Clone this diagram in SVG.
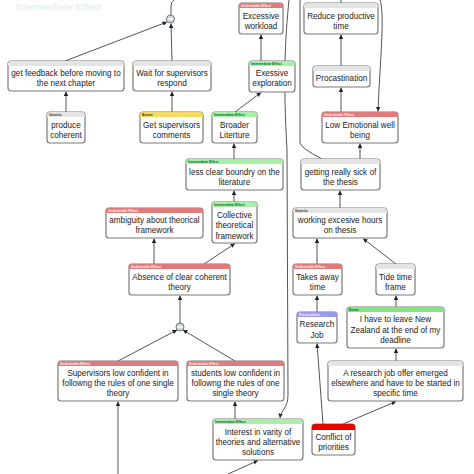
<svg xmlns="http://www.w3.org/2000/svg" width="474" height="474" viewBox="0 0 474 474">
<style>
.box{fill:#fff;stroke:#7a7a7a;stroke-width:1.2}
.t{font-family:"Liberation Sans",Arial,sans-serif;font-size:8.15px;fill:#222;text-anchor:middle}
.h{font-family:"Liberation Sans",Arial,sans-serif;font-size:3.4px;font-weight:bold}
.hr{fill:#e07b7b}.hg{fill:#a8f0a8}.hy{fill:#f4dc64}.hb{fill:#9a9ae6}.he{fill:#7ee87e}.hx{fill:#e4e4e4}.hc{fill:#e60000}
.lw{fill:#fff0f0}.ld{fill:#063}
.c{fill:none;stroke:#555;stroke-width:1}
.and{fill:#cfdadf;stroke:#666;stroke-width:0.9}
</style>
<defs>
<marker id="a" viewBox="0 0 6 6" refX="6" refY="3" markerWidth="4.5" markerHeight="4.5" orient="auto" markerUnits="userSpaceOnUse">
<path d="M0,0 L6,3 L0,6 Z" fill="#222"/>
</marker>
</defs>
<rect width="474" height="474" fill="#fff"/>
<text x="16" y="10" font-family="Liberation Sans,Arial,sans-serif" font-size="9.5" font-weight="bold" fill="#dff5df">Intermediate Effect</text>

<g id="connectors">
<path class="c" d="M171,15 L171,6 Q171,2 174,0"/>
<path class="c" d="M65,61 L167,22" marker-end="url(#a)"/>
<path class="c" d="M172,61 L171,23.5" marker-end="url(#a)"/>
<path class="c" d="M66,112 L66,91.5" marker-end="url(#a)"/>
<path class="c" d="M172,112 L172,91.5" marker-end="url(#a)"/>
<path class="c" d="M235,112 L261,92.5" marker-end="url(#a)"/>
<path class="c" d="M261,61 L261,34.5" marker-end="url(#a)"/>
<path class="c" d="M234,159 L234,143.5" marker-end="url(#a)"/>
<path class="c" d="M234,202 L234,190.5" marker-end="url(#a)"/>
<path class="c" d="M154,264 L154,238.5" marker-end="url(#a)"/>
<path class="c" d="M204,264 L235,243.5" marker-end="url(#a)"/>
<path class="c" d="M180,323 L180,295.5" marker-end="url(#a)"/>
<path class="c" d="M118,361 L177,330" marker-end="url(#a)"/>
<path class="c" d="M235,361 L183,330" marker-end="url(#a)"/>
<path class="c" d="M118,474 L118,401.5" marker-end="url(#a)"/>
<path class="c" d="M235,419 L235,401.5" marker-end="url(#a)"/>
<path class="c" d="M228,474 L258,460.5" marker-end="url(#a)"/>
<path class="c" d="M289,0 C285,40 283,80 287,150 L288,395 C288,408 281,410 280,418" marker-end="url(#a)"/>
<path class="c" d="M341,0 L341,3"/>
<path class="c" d="M341,66 L341,34.5" marker-end="url(#a)"/>
<path class="c" d="M341,112 L341,87.5" marker-end="url(#a)"/>
<path class="c" d="M380,0 C385,15 380,60 378,111.5" marker-end="url(#a)"/>
<path class="c" d="M300,0 L300,143 Q301,148 322,159"/>
<path class="c" d="M360,159 L360,143.5" marker-end="url(#a)"/>
<path class="c" d="M340,208 L340,190.5" marker-end="url(#a)"/>
<path class="c" d="M317,264 L317,238.5" marker-end="url(#a)"/>
<path class="c" d="M396,264 L363,238.5" marker-end="url(#a)"/>
<path class="c" d="M396,307 L396,295.5" marker-end="url(#a)"/>
<path class="c" d="M317,312 L317,295.5" marker-end="url(#a)"/>
<path class="c" d="M396,361 L396,348.5" marker-end="url(#a)"/>
<path class="c" d="M323,424 L317,343.5" marker-end="url(#a)"/>
<path class="c" d="M343,424 L396,401.5" marker-end="url(#a)"/>
</g>

<g id="and1"><circle class="and" cx="170.5" cy="19" r="4"/><line x1="167.5" y1="19" x2="173.5" y2="19" stroke="#fff" stroke-width="1.2"/></g>
<g id="and2"><circle class="and" cx="180" cy="327" r="4"/><line x1="177" y1="327" x2="183" y2="327" stroke="#fff" stroke-width="1.2"/></g>

<g id="n_feedback">
<rect class="box" x="8" y="61" width="116" height="30" rx="3"/>
<path class="hx" d="M8,66 V64 Q8,61 11,61 H121 Q124,61 124,64 V66 Z"/>
<text class="t" x="66" y="76">get feedback before moving to</text>
<text class="t" x="66" y="86">the next chapter</text>
</g>

<g id="n_wait">
<rect class="box" x="133" y="61" width="78" height="30" rx="3"/>
<path class="hx" d="M133,66 V64 Q133,61 136,61 H208 Q211,61 211,64 V66 Z"/>
<text class="t" x="172" y="76">Wait for supervisors</text>
<text class="t" x="172" y="86">respond</text>
</g>

<g id="n_produce">
<rect class="box" x="47" y="112" width="38" height="31" rx="3"/>
<path class="hx" d="M47,117 V115 Q47,112 50,112 H82 Q85,112 85,115 V117 Z"/>
<text class="h" x="49" y="116" fill="#333">Generic</text>
<text class="t" x="66" y="128">produce</text>
<text class="t" x="66" y="138">coherent</text>
</g>

<g id="n_getsup">
<rect class="box" x="140" y="112" width="63" height="31" rx="3"/>
<path class="hy" d="M140,117 V115 Q140,112 143,112 H200 Q203,112 203,115 V117 Z"/>
<text class="h" x="142" y="116" fill="#333">Action</text>
<text class="t" x="171.5" y="128">Get supervisors</text>
<text class="t" x="171.5" y="138">comments</text>
</g>

<g id="n_broader">
<rect class="box" x="212" y="112" width="45" height="31" rx="3"/>
<path class="hg" d="M212,117 V115 Q212,112 215,112 H254 Q257,112 257,115 V117 Z"/>
<text class="h ld" x="214" y="116">Intermediate Effect</text>
<text class="t" x="234.5" y="128">Broader</text>
<text class="t" x="234.5" y="138">Literture</text>
</g>

<g id="n_workload">
<rect class="box" x="239" y="3" width="44" height="31" rx="3"/>
<path class="hr" d="M239,8 V6 Q239,3 242,3 H280 Q283,3 283,6 V8 Z"/>
<text class="h lw" x="241" y="7">Undesirable Effect</text>
<text class="t" x="261" y="19">Excessive</text>
<text class="t" x="261" y="29">workload</text>
</g>

<g id="n_exploration">
<rect class="box" x="249" y="61" width="46" height="31" rx="3"/>
<path class="hg" d="M249,66 V64 Q249,61 252,61 H292 Q295,61 295,64 V66 Z"/>
<text class="h ld" x="251" y="65">Intermediate Effect</text>
<text class="t" x="272" y="76">Exessive</text>
<text class="t" x="272" y="86">exploration</text>
</g>

<g id="n_reduce">
<rect class="box" x="304" y="3" width="74" height="31" rx="3"/>
<path class="hx" d="M304,8 V6 Q304,3 307,3 H375 Q378,3 378,6 V8 Z"/>
<text class="t" x="341" y="19">Reduce productive</text>
<text class="t" x="341" y="29">time</text>
</g>

<g id="n_procast">
<rect class="box" x="313" y="66" width="57" height="21" rx="3"/>
<path class="hx" d="M313,71 V69 Q313,66 316,66 H367 Q370,66 370,69 V71 Z"/>
<text class="t" x="341.5" y="81">Procastination</text>
</g>

<g id="n_lowemo">
<rect class="box" x="322" y="112" width="76" height="31" rx="3"/>
<path class="hr" d="M322,117 V115 Q322,112 325,112 H395 Q398,112 398,115 V117 Z"/>
<text class="h lw" x="324" y="116">Undesirable Effect</text>
<text class="t" x="360" y="128">Low Emotional well</text>
<text class="t" x="360" y="138">being</text>
</g>

<g id="n_lessclear">
<rect class="box" x="186" y="159" width="97" height="31" rx="3"/>
<path class="hg" d="M186,164 V162 Q186,159 189,159 H280 Q283,159 283,162 V164 Z"/>
<text class="h ld" x="188" y="163">Intermediate Effect</text>
<text class="t" x="234.5" y="175">less clear boundry on the</text>
<text class="t" x="234.5" y="185">literature</text>
</g>

<g id="n_sick">
<rect class="box" x="301" y="159" width="79" height="31" rx="3"/>
<path class="hx" d="M301,164 V162 Q301,159 304,159 H377 Q380,159 380,162 V164 Z"/>
<text class="t" x="340.5" y="175">getting really sick of</text>
<text class="t" x="340.5" y="185">the thesis</text>
</g>

<g id="n_ambig">
<rect class="box" x="106" y="208" width="97" height="30" rx="3"/>
<path class="hr" d="M106,213 V211 Q106,208 109,208 H200 Q203,208 203,211 V213 Z"/>
<text class="h lw" x="108" y="212">Undesirable Effect</text>
<text class="t" x="154.5" y="223">ambiguity about theorical</text>
<text class="t" x="154.5" y="233">framework</text>
</g>

<g id="n_collective">
<rect class="box" x="212" y="202" width="45" height="41" rx="3"/>
<path class="hg" d="M212,207 V205 Q212,202 215,202 H254 Q257,202 257,205 V207 Z"/>
<text class="h ld" x="214" y="206">Intermediate Effect</text>
<text class="t" x="234.5" y="218">Collective</text>
<text class="t" x="234.5" y="228">theoretical</text>
<text class="t" x="234.5" y="239">framework</text>
</g>

<g id="n_working">
<rect class="box" x="293" y="208" width="94" height="30" rx="3"/>
<path class="hx" d="M293,213 V211 Q293,208 296,208 H384 Q387,208 387,211 V213 Z"/>
<text class="h" x="295" y="212" fill="#333">Generic</text>
<text class="t" x="340" y="223">working excesive hours</text>
<text class="t" x="340" y="233">on thesis</text>
</g>

<g id="n_absence">
<rect class="box" x="129" y="264" width="101" height="31" rx="3"/>
<path class="hr" d="M129,269 V267 Q129,264 132,264 H227 Q230,264 230,267 V269 Z"/>
<text class="h lw" x="131" y="268">Undesirable Effect</text>
<text class="t" x="179.5" y="280">Absence of clear coherent</text>
<text class="t" x="179.5" y="290">theory</text>
</g>

<g id="n_takes">
<rect class="box" x="293" y="264" width="49" height="31" rx="3"/>
<path class="hr" d="M293,269 V267 Q293,264 296,264 H339 Q342,264 342,267 V269 Z"/>
<text class="h lw" x="295" y="268">Undesirable Effect</text>
<text class="t" x="317.5" y="280">Takes away</text>
<text class="t" x="317.5" y="290">time</text>
</g>

<g id="n_tide">
<rect class="box" x="376" y="264" width="39" height="31" rx="3"/>
<path class="hx" d="M376,269 V267 Q376,264 379,264 H412 Q415,264 415,267 V269 Z"/>
<text class="t" x="395.5" y="280">Tide time</text>
<text class="t" x="395.5" y="290">frame</text>
</g>

<g id="n_research">
<rect class="box" x="297" y="312" width="40" height="31" rx="3"/>
<path class="hb" d="M297,317 V315 Q297,312 300,312 H334 Q337,312 337,315 V317 Z"/>
<text class="h lw" x="299" y="316">Precondition</text>
<text class="t" x="317" y="327">Research</text>
<text class="t" x="317" y="338">Job</text>
</g>

<g id="n_leave">
<rect class="box" x="347" y="307" width="97" height="41" rx="3"/>
<path class="he" d="M347,312 V310 Q347,307 350,307 H441 Q444,307 444,310 V312 Z"/>
<text class="h ld" x="349" y="311">Event</text>
<text class="t" x="395.5" y="322">I have to leave New</text>
<text class="t" x="395.5" y="333">Zealand at the end of my</text>
<text class="t" x="395.5" y="343">deadline</text>
</g>

<g id="n_supervisors">
<rect class="box" x="58" y="361" width="120" height="40" rx="3"/>
<path class="hr" d="M58,366 V364 Q58,361 61,361 H175 Q178,361 178,364 V366 Z"/>
<text class="h lw" x="60" y="365">Undesirable Effect</text>
<text class="t" x="118" y="376">Supervisors low confident in</text>
<text class="t" x="118" y="386">followng the rules of one single</text>
<text class="t" x="118" y="396">theory</text>
</g>

<g id="n_students">
<rect class="box" x="187" y="361" width="97" height="40" rx="3"/>
<path class="hr" d="M187,366 V364 Q187,361 190,361 H281 Q284,361 284,364 V366 Z"/>
<text class="h lw" x="189" y="365">Undesirable Effect</text>
<text class="t" x="235.5" y="376">students low confident in</text>
<text class="t" x="235.5" y="386">followng the rules of one</text>
<text class="t" x="235.5" y="396">single theory</text>
</g>

<g id="n_offer">
<rect class="box" x="328" y="361" width="135" height="40" rx="3"/>
<path class="hx" d="M328,366 V364 Q328,361 331,361 H460 Q463,361 463,364 V366 Z"/>
<text class="t" x="395.5" y="376">A research job offer emerged</text>
<text class="t" x="395.5" y="386">elsewhere and have to be started in</text>
<text class="t" x="395.5" y="396">specific time</text>
</g>

<g id="n_interest">
<rect class="box" x="213" y="419" width="90" height="41" rx="3"/>
<path class="hg" d="M213,424 V422 Q213,419 216,419 H300 Q303,419 303,422 V424 Z"/>
<text class="h ld" x="215" y="423">Intermediate Effect</text>
<text class="t" x="258" y="435">Interest in varity of</text>
<text class="t" x="258" y="445">theories and alternative</text>
<text class="t" x="258" y="455">solutions</text>
</g>

<g id="n_conflict">
<rect class="box" x="312" y="424" width="43" height="31" rx="3"/>
<path class="hc" d="M312,430 V427 Q312,424 315,424 H352 Q355,424 355,427 V430 Z"/>
<text class="t" x="333.5" y="440">Conflict of</text>
<text class="t" x="333.5" y="450">priorities</text>
</g>
</svg>
